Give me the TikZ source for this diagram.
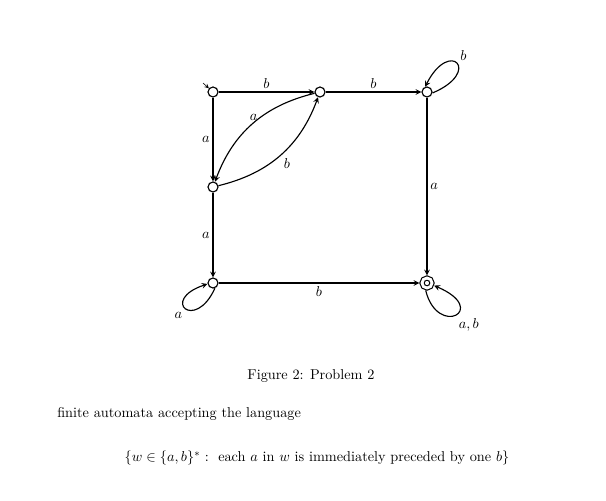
\documentclass[tikz,border=0pt]{standalone}
\usepackage{amsmath}
\usepackage{amsfonts}
\usepackage{tikz}

\begin{document}
\begin{tikzpicture}[
x=0.7pt, y=-0.7pt, >=stealth,
statenode/.style={circle, draw=black, fill=white, thick, inner sep=0pt, minimum size=7pt},
finalnode/.style={statenode, double, double distance=2pt, outer sep=1.8pt},
edgelabel/.style={inner sep=2pt},
]
\useasboundingbox (0,0) rectangle (606,500);

%Nodes
\node[statenode]      (q0)      at (213,92)  {};
\node[statenode]      (q1)      at (320,92)  {};
\node[statenode]      (q2)      at (427,92)  {};
\node[statenode]      (q3)      at (213,187) {};
\node[statenode]      (q4)      at (213,283) {};
\node[finalnode]      (q5)      at (427,283) {};
\coordinate           (start)   at (203,83);

%Lines
\draw[->, thin] (start) -- (q0);
\draw[->, thick] (q0) -- node[edgelabel, above] {$b$} (q1);
\draw[->, thick] (q1) -- node[edgelabel, above] {$b$} (q2);
\draw[->, thick] (q0) -- node[edgelabel, left]  {$a$} (q3);
\draw[->, thick] (q3) -- node[edgelabel, left]  {$a$} (q4);
\draw[->, thick] (q4) -- node[edgelabel, below] {$b$} (q5);
\draw[->, thick] (q2) -- node[edgelabel, right] {$a$} (q5);
\draw[->, thick] (q1) to[bend right=28] node[edgelabel, left, pos=0.42] {$a$} (q3);
\draw[->, thick] (q3) to[bend right=28] node[edgelabel, below right, pos=0.5] {$b$} (q1);

%Loops
\draw[->, thick] (q2.-10) .. controls +(50,-21) and +(25,-49) .. node[edgelabel, above right] {$b$} (q2.110);
\draw[->, thick] (q4.-70) .. controls +(-20,44) and +(-48,16) .. node[edgelabel, below left] {$a$} (q4.190);
\draw[->, thick] (q5.-100) .. controls +(12,48) and +(56,24) .. node[edgelabel, below right] {$a,b$} (q5.-20);

%Text
\node (caption) at (311,376) {Figure 2: Problem 2};
\node[anchor=west, inner sep=0pt] (intro) at (57,414) {finite automata accepting the language};
\node (lang) at (317,458) {$\{w\in\{a,b\}^*:$\ \ each $a$ in $w$ is immediately preceded by one $b\}$};
\end{tikzpicture}
\end{document}
